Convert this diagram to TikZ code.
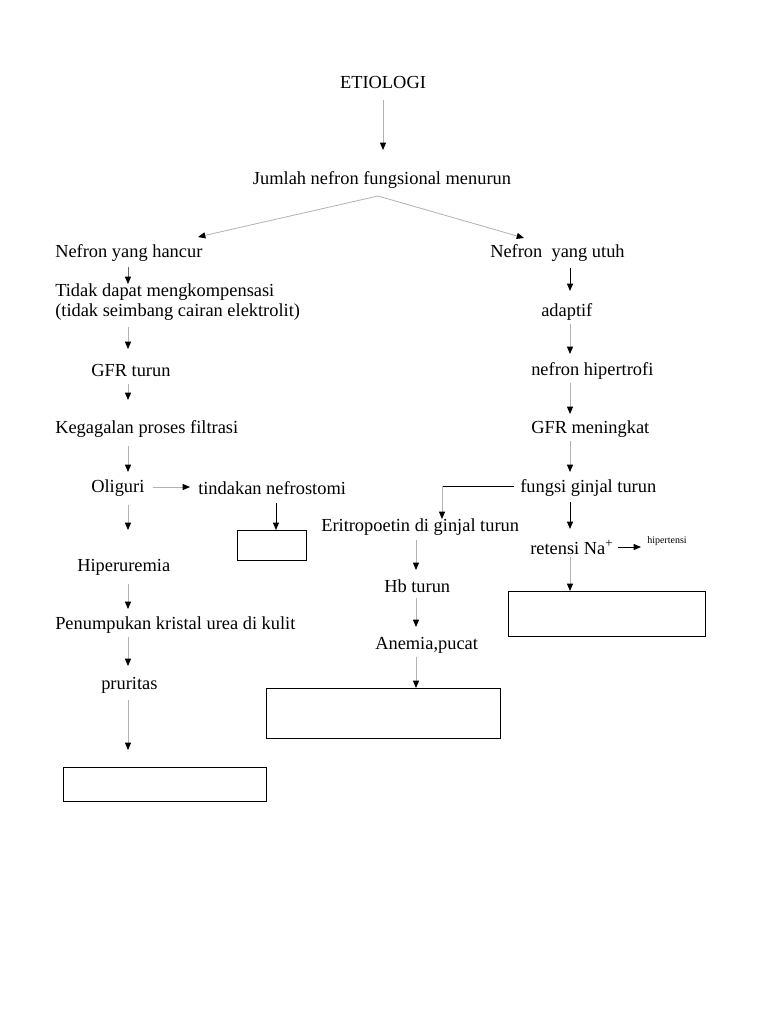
\documentclass[tikz,border=0pt]{standalone}
\usepackage{fontspec}
\setmainfont{Liberation Serif}
\usetikzlibrary{arrows.meta}
\begin{document}
\begin{tikzpicture}[x=0.75pt,y=-0.75pt,
  txt/.style={inner sep=0pt,font=\fontsize{13.8}{16}\selectfont},
  tip/.style={-{Triangle[length=5.5pt,width=4.5pt,color=black]}},
  garis/.style={tip,draw=black!30,line width=0.6pt},
  hitam/.style={tip,draw=black,line width=0.75pt},
  kotak/.style={draw=black,line width=0.75pt}]
\useasboundingbox (0,0) rectangle (768,1024);
\fill[white] (0,0) rectangle (768,1024);

% texts
\node[txt] (eti) at (383,82) {ETIOLOGI};
\node[txt] (jml) at (382,180) {Jumlah nefron fungsional menurun};
\node[txt,anchor=west] (hancur) at (55,253) {Nefron yang hancur};
\node[txt,anchor=west] (utuh) at (490,253) {Nefron\ \ yang utuh};
\node[txt,anchor=north west,align=left,font=\fontsize{13.8}{15}\selectfont] (tidak) at (55,283) {Tidak dapat mengkompensasi\\(tidak seimbang cairan elektrolit)};
\node[txt,anchor=west] (gfr) at (91,370) {GFR turun};
\node[txt,anchor=west] (gagal) at (55,429) {Kegagalan proses filtrasi};
\node[txt,anchor=west] (oli) at (91,488) {Oliguri};
\node[txt,anchor=west] (tind) at (198,488) {tindakan nefrostomi};
\node[txt,anchor=west] (hiper) at (77,567) {Hiperuremia};
\node[txt,anchor=west] (penum) at (55,625) {Penumpukan kristal urea di kulit};
\node[txt,anchor=west] (prur) at (101,685) {pruritas};

\node[txt,anchor=west] (adap) at (541,312) {adaptif};
\node[txt,anchor=west] (hipt) at (531,371) {nefron hipertrofi};
\node[txt,anchor=west] (gfrm) at (531,429) {GFR meningkat};
\node[txt,anchor=west] (fung) at (520,488) {fungsi ginjal turun};
\node[txt,anchor=west] (eri) at (321,527) {Eritropoetin di ginjal turun};
\node[txt,anchor=west] (ret) at (530,547) {retensi Na\textsuperscript{+}};
\node[inner sep=0pt,anchor=west,font=\fontsize{7.5}{9}\selectfont] (hipe) at (647,541) {hipertensi};
\node[txt,anchor=west] (hb) at (384,586) {Hb turun};
\node[txt,anchor=west] (anem) at (375,645) {Anemia,pucat};

% boxes
\draw[kotak] (237,530) rectangle (306,560);
\coordinate (b1n) at (276,530);
\draw[kotak] (508,591) rectangle (705,636);
\coordinate (b2n) at (570,591);
\draw[kotak] (266,688) rectangle (500,738);
\coordinate (b3n) at (416,688);
\draw[kotak] (63,767) rectangle (266,801);
\coordinate (b4n) at (128,767);

% connectors (free ends as named coordinates)
\coordinate (e1) at (383,100); \coordinate (e2) at (383,150);
\draw[garis] (e1) -- (e2);
\coordinate (j0) at (378,196);
\coordinate (jl) at (198,237); \coordinate (jr) at (524,238);
\draw[garis] (j0) -- (jl);
\draw[garis] (j0) -- (jr);

\coordinate (l1a) at (128,267); \coordinate (l1b) at (128,284);
\draw[garis,draw=black!60] (l1a) -- (l1b);
\coordinate (l2a) at (128,327); \coordinate (l2b) at (128,349);
\draw[garis] (l2a) -- (l2b);
\coordinate (l3a) at (128,384); \coordinate (l3b) at (128,400);
\draw[garis] (l3a) -- (l3b);
\coordinate (l4a) at (128,446); \coordinate (l4b) at (128,472);
\draw[garis] (l4a) -- (l4b);
\coordinate (o1) at (153,487); \coordinate (o2) at (190,487);
\draw[garis] (o1) -- (o2);
\coordinate (l5a) at (128,505); \coordinate (l5b) at (128,530);
\draw[garis] (l5a) -- (l5b);
\coordinate (t1) at (276,503);
\draw[hitam] (t1) -- (b1n);
\coordinate (l6a) at (128,584); \coordinate (l6b) at (128,609);
\draw[garis] (l6a) -- (l6b);
\coordinate (l7a) at (128,637); \coordinate (l7b) at (128,666);
\draw[garis] (l7a) -- (l7b);
\coordinate (l8a) at (128,700); \coordinate (l8b) at (128,750);
\draw[garis] (l8a) -- (l8b);

\coordinate (r1a) at (570,268); \coordinate (r1b) at (570,291);
\draw[hitam] (r1a) -- (r1b);
\coordinate (r2a) at (570,324); \coordinate (r2b) at (570,354);
\draw[garis] (r2a) -- (r2b);
\coordinate (r3a) at (570,383); \coordinate (r3b) at (570,414);
\draw[garis] (r3a) -- (r3b);
\coordinate (r4a) at (570,441); \coordinate (r4b) at (570,472);
\draw[garis] (r4a) -- (r4b);
\coordinate (f1) at (514,486); \coordinate (f2) at (442,486); \coordinate (f3) at (442,519);
\draw[line width=0.75pt] (f1) -- (f2);
\draw[garis] (f2) -- (f3);
\coordinate (r5a) at (570,502); \coordinate (r5b) at (570,529);
\draw[hitam] (r5a) -- (r5b);
\coordinate (h1) at (618,547); \coordinate (h2) at (641,547);
\draw[hitam] (h1) -- (h2);
\coordinate (r6a) at (570,557);
\draw[garis] (r6a) -- (b2n);
\coordinate (m1a) at (416,540); \coordinate (m1b) at (416,570);
\draw[garis] (m1a) -- (m1b);
\coordinate (m2a) at (416,598); \coordinate (m2b) at (416,627);
\draw[garis] (m2a) -- (m2b);
\coordinate (m3a) at (416,657);
\draw[garis] (m3a) -- (b3n);
\end{tikzpicture}
\end{document}
